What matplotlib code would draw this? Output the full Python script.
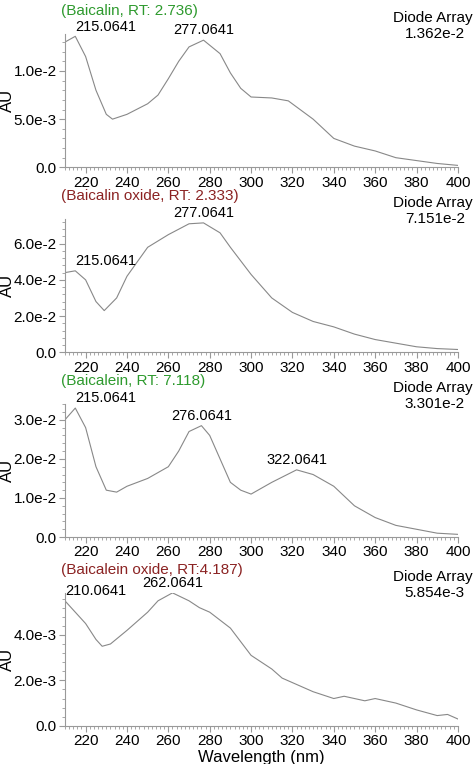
import matplotlib
matplotlib.use("Agg")
import matplotlib.pyplot as plt
from matplotlib.ticker import MultipleLocator, AutoMinorLocator

plt.rcParams['font.family'] = ['Liberation Sans', 'DejaVu Sans']

wl1 = [210,215,220,225,230,233,240,250,255,260,265,270,277,285,290,295,300,310,318,330,340,350,360,370,380,390,400]
au1 = [0.0130,0.0136,0.0115,0.0080,0.0055,0.0050,0.0055,0.0066,0.0075,0.0092,0.0110,0.0125,0.0132,0.0118,0.0098,0.0082,0.0073,0.0072,0.0069,0.0050,0.0030,0.0022,0.0017,0.0010,0.0007,0.0004,0.0002]
wl2 = [210,215,220,225,229,235,240,250,260,270,277,285,290,300,310,320,330,340,350,360,370,380,390,400]
au2 = [0.044,0.045,0.040,0.028,0.023,0.030,0.042,0.058,0.065,0.071,0.0715,0.066,0.058,0.043,0.030,0.022,0.017,0.014,0.010,0.007,0.005,0.003,0.002,0.0015]
wl3 = [210,215,220,225,230,235,240,250,260,265,270,276,280,285,290,295,300,310,322,330,340,350,360,370,380,390,400]
au3 = [0.030,0.033,0.028,0.018,0.012,0.0115,0.013,0.015,0.018,0.022,0.027,0.0285,0.026,0.020,0.014,0.012,0.011,0.014,0.0172,0.016,0.013,0.008,0.005,0.003,0.002,0.001,0.0007]
wl4 = [210,215,220,225,228,232,240,250,255,262,270,275,280,290,300,310,315,320,330,340,345,355,360,370,380,390,395,400]
au4 = [0.0055,0.0050,0.0045,0.0038,0.0035,0.0036,0.0042,0.0050,0.0055,0.00585,0.0055,0.0052,0.0050,0.0043,0.0031,0.0025,0.0021,0.0019,0.0015,0.0012,0.0013,0.0011,0.0012,0.0010,0.0007,0.00045,0.0005,0.0003]

titles = ["(Baicalin, RT: 2.736)", "(Baicalin oxide, RT: 2.333)", "(Baicalein, RT: 7.118)", "(Baicalein oxide, RT:4.187)"]
title_colors = ["#2e9a2e", "#8b2323", "#2e9a2e", "#8b2323"]
maxima = ["1.362e-2", "7.151e-2", "3.301e-2", "5.854e-3"]
peaks = [[(215,0.0136,"215.0641"),(277,0.0132,"277.0641")],
         [(215,0.045,"215.0641"),(277,0.0715,"277.0641")],
         [(215,0.033,"215.0641"),(276,0.0285,"276.0641"),(322,0.0172,"322.0641")],
         [(210,0.0055,"210.0641"),(262,0.00585,"262.0641")]]
yticks = [[0,0.005,0.01],[0,0.02,0.04,0.06],[0,0.01,0.02,0.03],[0,0.002,0.004]]
yticklabels = [["0.0","5.0e-3","1.0e-2"],["0.0","2.0e-2","4.0e-2","6.0e-2"],["0.0","1.0e-2","2.0e-2","3.0e-2"],["0.0","2.0e-3","4.0e-3"]]
ytops = [0.0138, 0.0735, 0.0340, 0.00585]

data = [(wl1,au1),(wl2,au2),(wl3,au3),(wl4,au4)]
fig = plt.figure(figsize=(4.74,7.64), dpi=100)
bottoms = [0.781, 0.539, 0.297, 0.050]
for i,(wl,au) in enumerate(data):
    ax = fig.add_axes([0.137, bottoms[i], 0.829, 0.174])
    ax.plot(wl, au, color="#888888", lw=0.8)
    ax.set_xlim(210, 400)
    ax.set_ylim(0, ytops[i])
    for s in ["top","right"]:
        ax.spines[s].set_visible(False)
    for s in ["left","bottom"]:
        ax.spines[s].set_color("#999999")
    ax.set_xticks(range(220,401,20))
    ax.xaxis.set_minor_locator(MultipleLocator(2))
    ax.set_yticks(yticks[i])
    ax.set_yticklabels(yticklabels[i])
    ax.yaxis.set_minor_locator(AutoMinorLocator(5))
    ax.tick_params(which="both", color="#999999", labelsize=11, pad=2)
    ax.tick_params(which="major", length=4)
    ax.tick_params(which="minor", length=2)
    fig.text(0.0, bottoms[i] + 0.087, "AU", rotation=90, fontsize=12, ha="left", va="center")
    ax.text(-0.01, 1.12, titles[i], transform=ax.transAxes, color=title_colors[i], fontsize=11, ha="left", va="bottom")
    fig.text(0.997, bottoms[i] + 0.174 * 1.07, "Diode Array", fontsize=11, ha="right", va="bottom")
    ax.text(0.865, 0.95, maxima[i], transform=ax.transAxes, fontsize=11, ha="left", va="bottom")
    for (x,y,lab) in peaks[i]:
        ax.annotate(lab, (x,y), xytext=(0,2), textcoords="offset points", ha="left" if x<=215 else "center", va="bottom", fontsize=10.5)
    if i == 3:
        ax.set_xlabel("Wavelength (nm)", fontsize=12, labelpad=1)
fig.savefig("out.png", dpi=100)
